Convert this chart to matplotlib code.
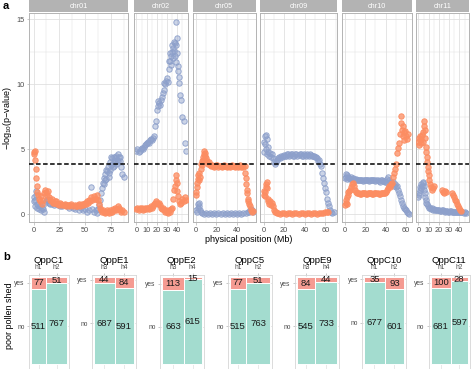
import matplotlib.pyplot as plt

plt.rcParams['font.family'] = ['Liberation Sans', 'DejaVu Sans']
plt.rcParams['mathtext.default'] = 'regular'

# ---- panel a: -log10(p) along chromosomes (position Mb, value) ----
chrom_names = ['chr01', 'chr02', 'chr05', 'chr09', 'chr10', 'chr11']
chrom_len = [87, 48, 55, 68, 63, 47]
chrom_ticks = [[0, 25, 50, 75], [0, 10, 20, 30, 40], [0, 20, 40],
               [0, 20, 40, 60], [0, 20, 40, 60], [0, 10, 20, 30, 40]]
threshold = 3.85

chr01_blue = [(0, 1.0), (0.5, 1.3), (1, 0.6), (1.5, 1.1), (2, 1.8), (2.5, 1.5), (3, 0.8), (3.5, 0.5),
              (4, 0.7), (5, 0.4), (6, 0.6), (7, 0.3), (8, 0.5), (9, 0.4), (10, 0.2), (11, 0.9),
              (12, 1.0), (13, 1.2), (14, 1.1), (15, 0.9), (16, 0.8), (18, 0.8), (20, 0.7), (22, 0.8),
              (24, 0.7), (26, 0.6), (28, 0.6), (30, 0.7), (32, 0.6), (34, 0.5), (36, 0.6), (38, 0.5),
              (40, 0.4), (42, 0.6), (44, 0.3), (46, 0.5), (48, 0.3), (50, 0.4), (52, 0.2), (54, 0.3),
              (56, 2.1), (57, 0.4), (58, 0.2), (60, 0.3), (61, 0.1), (62, 0.4), (63, 0.7), (64, 1.1),
              (65, 1.6), (66, 2.0), (67, 2.4), (68, 2.8), (68, 2.3), (69, 3.1), (69, 2.6), (70, 2.7),
              (70, 3.4), (71, 3.3), (72, 3.6), (73, 3.2), (73, 2.9), (74, 4.0), (74, 3.4), (75, 3.8),
              (75, 4.4), (76, 4.3), (76, 3.9), (77, 3.6), (78, 4.4), (78, 3.7), (79, 4.0), (79, 4.3),
              (80, 4.5), (80, 3.9), (81, 4.2), (82, 4.6), (82, 4.1), (83, 4.4), (84, 4.1), (84, 4.4),
              (85, 3.6), (86, 3.1), (87, 2.9)]
chr01_orange = [(0, 4.8), (0.5, 4.6), (1, 4.9), (1.5, 4.2), (2, 3.5), (2.5, 2.8), (3, 2.2), (3.5, 1.7),
                (4, 1.5), (5, 1.2), (6, 1.0), (7, 1.4), (8, 0.8), (9, 1.1), (10, 1.6), (11, 1.9),
                (12, 1.7), (13, 1.5), (14, 1.8), (15, 1.3), (16, 1.1), (17, 1.0), (18, 1.2), (19, 0.9),
                (20, 0.9), (21, 1.0), (22, 1.0), (23, 0.8), (24, 0.8), (25, 0.7), (26, 0.9), (27, 0.8),
                (28, 0.7), (29, 0.7), (30, 0.8), (31, 0.6), (32, 0.7), (33, 0.7), (34, 0.6), (35, 0.7),
                (36, 0.8), (38, 0.6), (40, 0.7), (41, 0.6), (42, 0.6), (43, 0.7), (44, 0.8), (45, 0.6),
                (46, 0.7), (47, 0.8), (48, 0.7), (49, 0.8), (50, 0.9), (51, 0.8), (52, 1.0), (53, 0.9),
                (54, 1.1), (55, 1.0), (56, 1.3), (57, 1.1), (58, 1.4), (59, 1.2), (60, 1.2), (61, 1.5),
                (62, 1.1), (63, 0.8), (64, 0.5), (65, 0.3), (66, 0.2), (67, 0.3), (68, 0.2), (69, 0.1),
                (70, 0.2), (71, 0.3), (72, 0.2), (73, 0.1), (74, 0.3), (75, 0.2), (76, 0.2), (77, 0.4),
                (78, 0.3), (79, 0.5), (80, 0.3), (81, 0.4), (82, 0.6), (83, 0.5), (84, 0.3), (85, 0.2),
                (86, 0.3), (87, 0.2)]

chr02_blue = [(0, 4.9), (1, 5.0), (2, 4.8), (3, 4.9), (4, 5.0), (5, 5.1), (6, 5.0), (7, 5.2), (8, 5.3),
              (9, 5.4), (10, 5.5), (11, 5.6), (12, 5.5), (13, 5.7), (14, 5.8), (15, 5.7), (16, 5.9),
              (17, 6.0), (18, 6.8), (19, 7.2), (20, 8.0), (21, 8.3), (21, 8.7), (22, 8.6), (23, 8.4),
              (24, 8.8), (25, 9.0), (26, 9.3), (27, 9.6), (27, 10.1), (28, 10.0), (29, 10.3), (30, 10.5),
              (31, 10.2), (32, 11.2), (32, 11.8), (33, 11.8), (33, 12.4), (34, 12.2), (34, 11.5),
              (35, 12.5), (35, 13.0), (36, 12.8), (36, 12.0), (37, 12.6), (37, 13.3), (38, 13.2),
              (38, 12.2), (39, 13.0), (39, 14.8), (39, 11.7), (40, 12.4), (40, 13.6), (41, 11.0),
              (41, 11.4), (42, 10.6), (42, 10.1), (43, 9.2), (44, 8.8), (45, 7.5), (46, 7.2),
              (47, 5.5), (48, 4.9)]
chr02_orange = [(0, 0.4), (1, 0.5), (2, 0.3), (3, 0.45), (4, 0.4), (5, 0.5), (6, 0.35), (7, 0.4),
                (8, 0.5), (9, 0.4), (10, 0.45), (11, 0.5), (12, 0.4), (13, 0.5), (14, 0.6), (15, 0.5),
                (16, 0.6), (17, 0.8), (18, 0.9), (19, 1.0), (20, 0.9), (21, 0.8), (22, 0.9), (23, 0.7),
                (24, 0.5), (25, 0.4), (26, 0.45), (27, 0.3), (28, 0.2), (29, 0.3), (30, 0.2), (31, 0.1),
                (32, 0.3), (33, 0.2), (34, 0.4), (35, 0.5), (36, 1.2), (37, 1.9), (38, 2.2), (38.5, 2.6),
                (39, 3.0), (39.5, 2.4), (40, 1.8), (41, 1.4), (42, 1.0), (43, 0.8), (44, 0.9), (45, 1.2),
                (46, 1.0), (47, 1.3), (48, 1.1)]

chr05_blue = [(0, 0.3), (1, 0.2), (2, 0.5), (2.5, 0.8), (3, 0.9), (3.5, 0.6), (4, 0.3), (5, 0.15),
              (6, 0.1), (8, 0.05), (10, 0.1), (12, 0.05), (14, 0.1), (16, 0.05), (18, 0.1), (20, 0.05),
              (22, 0.1), (24, 0.05), (26, 0.1), (28, 0.05), (30, 0.1), (32, 0.05), (34, 0.1), (36, 0.05),
              (38, 0.1), (40, 0.05), (42, 0.1), (44, 0.05), (46, 0.1), (48, 0.1), (50, 0.15), (51, 0.2),
              (52, 0.3), (53, 0.4), (54, 0.3), (55, 0.2)]
chr05_orange = [(0, 1.5), (0.5, 1.7), (1, 2.1), (1.5, 2.4), (2, 2.7), (2.5, 3.0), (3, 2.6), (3.5, 3.2),
                (4, 2.9), (5, 3.5), (5.5, 3.9), (6, 4.1), (6.5, 3.8), (7, 4.4), (7.5, 4.2), (8, 4.6),
                (8.5, 4.9), (9, 4.7), (9.5, 4.5), (10, 4.3), (11, 4.1), (12, 3.9), (13, 4.0), (14, 3.8),
                (15, 3.7), (16, 3.8), (17, 3.75), (18, 3.65), (19, 3.7), (20, 3.8), (21, 3.8), (22, 3.65),
                (23, 3.7), (24, 3.75), (25, 3.65), (26, 3.7), (27, 3.8), (28, 3.7), (29, 3.7), (30, 3.65),
                (31, 3.75), (32, 3.7), (33, 3.65), (34, 3.75), (35, 3.8), (36, 3.7), (37, 3.7), (38, 3.65),
                (39, 3.75), (40, 3.7), (41, 3.6), (42, 3.7), (43, 3.8), (44, 3.65), (45, 3.7), (46, 3.6),
                (47, 3.7), (47.5, 3.2), (48, 2.8), (48.5, 2.3), (49, 1.9), (49.5, 1.6), (50, 1.2),
                (50.5, 1.0), (51, 0.8), (52, 0.6), (53, 0.3), (54, 0.2), (55, 0.25)]

chr09_blue = [(0, 4.8), (0.5, 5.6), (1, 6.0), (1.5, 5.4), (2, 6.1), (2.5, 5.0), (3, 5.8), (3.5, 4.6),
              (4, 5.2), (4.5, 4.8), (5, 4.5), (6, 4.7), (7, 4.4), (8, 4.6), (9, 4.3), (10, 4.0),
              (11, 3.85), (12, 4.0), (13, 4.2), (14, 4.3), (15, 4.4), (16, 4.3), (17, 4.5), (18, 4.4),
              (19, 4.5), (20, 4.55), (21, 4.5), (22, 4.5), (23, 4.6), (24, 4.6), (25, 4.5), (26, 4.55),
              (27, 4.6), (28, 4.6), (29, 4.5), (30, 4.5), (31, 4.6), (32, 4.6), (33, 4.5), (34, 4.55),
              (35, 4.6), (36, 4.6), (37, 4.5), (38, 4.5), (39, 4.6), (40, 4.55), (41, 4.5), (42, 4.6),
              (43, 4.55), (44, 4.5), (45, 4.6), (46, 4.55), (47, 4.5), (48, 4.5), (49, 4.45), (50, 4.4),
              (51, 4.4), (52, 4.3), (53, 4.1), (54, 4.2), (55, 3.9), (56, 3.7), (57, 3.2), (58, 2.8),
              (59, 2.4), (60, 2.0), (61, 1.7), (62, 1.2), (63, 0.9), (64, 0.6), (65, 0.3), (66, 0.2),
              (67, 0.1), (68, 0.15)]
chr09_orange = [(0, 1.5), (0.5, 1.8), (1, 1.4), (1.5, 1.7), (2, 2.1), (2.5, 2.3), (3, 2.5), (3.5, 2.0),
                (4, 1.2), (4.5, 1.0), (5, 0.8), (6, 1.0), (7, 0.7), (8, 0.9), (9, 0.6), (10, 0.3),
                (11, 0.2), (12, 0.15), (13, 0.1), (14, 0.1), (16, 0.05), (18, 0.1), (20, 0.1), (22, 0.05),
                (24, 0.1), (26, 0.1), (28, 0.05), (30, 0.1), (32, 0.1), (34, 0.05), (36, 0.1), (38, 0.1),
                (40, 0.05), (42, 0.1), (44, 0.1), (46, 0.05), (48, 0.1), (50, 0.1), (52, 0.05), (54, 0.1),
                (56, 0.1), (58, 0.1), (60, 0.15), (62, 0.2), (63, 0.15)]

chr10_blue = [(0, 2.8), (0.5, 3.1), (1, 2.9), (1.5, 3.0), (2, 2.7), (3, 2.9), (4, 2.8), (5, 2.75),
              (6, 2.9), (7, 2.7), (8, 2.8), (9, 2.7), (10, 2.6), (11, 2.7), (12, 2.65), (13, 2.6),
              (14, 2.6), (15, 2.65), (16, 2.6), (17, 2.6), (18, 2.55), (19, 2.6), (20, 2.6), (21, 2.65),
              (22, 2.6), (23, 2.6), (24, 2.55), (25, 2.6), (26, 2.6), (27, 2.65), (28, 2.6), (29, 2.6),
              (30, 2.55), (31, 2.6), (32, 2.6), (33, 2.55), (34, 2.5), (35, 2.6), (36, 2.6), (37, 2.55),
              (38, 2.55), (39, 2.5), (40, 2.5), (41, 2.7), (42, 2.9), (43, 2.6), (44, 2.4), (45, 2.5),
              (46, 2.3), (47, 2.5), (48, 2.2), (49, 2.3), (50, 2.1), (51, 2.2), (52, 1.9), (53, 1.6),
              (54, 1.4), (55, 1.1), (56, 0.9), (57, 0.6), (58, 0.5), (59, 0.4), (60, 0.3), (61, 0.2),
              (62, 0.1), (63, 0.05)]
chr10_orange = [(0, 0.7), (0.5, 0.9), (1, 1.1), (1.5, 0.8), (2, 1.3), (2.5, 1.5), (3, 1.7), (4, 1.8),
                (5, 1.9), (6, 2.1), (7, 2.3), (8, 2.4), (9, 2.2), (10, 1.9), (11, 1.7), (12, 1.6),
                (13, 1.6), (14, 1.6), (15, 1.55), (16, 1.55), (17, 1.6), (18, 1.6), (19, 1.6), (20, 1.6),
                (21, 1.55), (22, 1.55), (23, 1.6), (24, 1.6), (25, 1.6), (26, 1.6), (27, 1.55), (28, 1.55),
                (29, 1.6), (30, 1.6), (31, 1.6), (32, 1.6), (33, 1.55), (34, 1.55), (35, 1.6), (36, 1.6),
                (37, 1.6), (38, 1.6), (39, 1.65), (40, 1.7), (41, 1.9), (42, 2.0), (43, 2.2), (44, 2.1),
                (45, 2.3), (46, 2.4), (47, 2.9), (48, 3.2), (49, 3.5), (50, 3.9), (51, 4.7), (52, 5.1),
                (53, 5.5), (54, 6.2), (55, 7.6), (55.5, 7.0), (56, 6.5), (57, 6.8), (57.5, 6.0), (58, 6.3),
                (58.5, 5.7), (59, 6.4), (60, 6.0), (61, 5.8), (62, 6.2)]

chr11_blue = [(0, 1.3), (0.5, 1.5), (1, 1.6), (1.5, 1.9), (2, 2.1), (2.5, 2.0), (3, 2.3), (3.5, 2.2),
              (4, 2.5), (4.5, 2.4), (5, 2.2), (5.5, 1.9), (6, 1.6), (6.5, 1.3), (7, 1.1), (7.5, 0.9),
              (8, 0.8), (9, 0.6), (10, 0.5), (11, 0.45), (12, 0.4), (13, 0.5), (14, 0.35), (15, 0.4),
              (16, 0.3), (17, 0.35), (18, 0.35), (19, 0.3), (20, 0.3), (21, 0.25), (22, 0.25), (23, 0.3),
              (24, 0.3), (25, 0.25), (26, 0.2), (27, 0.25), (28, 0.25), (29, 0.2), (30, 0.2), (31, 0.25),
              (32, 0.25), (33, 0.2), (34, 0.2), (35, 0.2), (36, 0.15), (37, 0.2), (38, 0.2), (39, 0.15),
              (40, 0.15), (41, 0.2), (42, 0.2), (43, 0.15), (44, 0.1), (45, 0.15), (46, 0.1)]
chr11_orange = [(0, 5.6), (0.5, 5.9), (1, 5.3), (1.5, 5.7), (2, 6.0), (2.5, 5.5), (3, 5.8), (3.5, 6.1),
                (4, 5.6), (4.5, 6.3), (5, 6.8), (5.5, 7.2), (6, 6.5), (6.5, 5.9), (7, 5.2), (7.5, 4.8),
                (8, 4.4), (8.5, 4.0), (9, 3.6), (9.5, 3.3), (10, 3.0), (10.5, 2.6), (11, 2.3), (12, 2.1),
                (13, 1.9), (14, 2.0), (15, 2.2), (23, 1.9), (24, 1.7), (25, 1.6), (26, 1.8), (27, 1.7),
                (33, 1.6), (34, 1.5), (35, 1.3), (36, 1.1), (37, 1.0), (38, 0.8), (39, 0.6), (40, 0.5),
                (41, 0.35), (42, 0.25)]

blue_series = [chr01_blue, chr02_blue, chr05_blue, chr09_blue, chr10_blue, chr11_blue]
orange_series = [chr01_orange, chr02_orange, chr05_orange, chr09_orange, chr10_orange, chr11_orange]

# ---- panel b: counts of poor pollen shed (yes/no) per haplotype ----
qtl_names = ['QppC1', 'QppE1', 'QppE2', 'QppC5', 'QppE9', 'QppC10', 'QppC11']
hap_labels = [('h1', 'h2'), ('h3', 'h4'), ('h3', 'h4'), ('h1', 'h2'), ('h3', 'h4'), ('h1', 'h2'), ('h1', 'h2')]
yes_counts = [(77, 51), (44, 84), (113, 15), (77, 51), (84, 44), (35, 93), (100, 28)]
no_counts = [(511, 767), (687, 591), (663, 615), (515, 763), (545, 733), (677, 601), (681, 597)]

TEAL = '#A3DCCF'
SALMON = '#F59B92'
GREY70 = '#B3B3B3'
GRID = '#E0E0E0'
TXT = '#4D4D4D'

W, H = 474, 369
fig = plt.figure(figsize=(W / 100, H / 100), dpi=100)


def px_axes(x0, y0, x1, y1):
    return fig.add_axes([x0 / W, 1 - y1 / H, (x1 - x0) / W, (y1 - y0) / H])


panel_px = [(29, 128), (134, 188), (192.7, 255.7), (260, 337), (342, 412), (416, 469)]
top_a, bot_a = 13, 222

for i, name in enumerate(chrom_names):
    x0, x1 = panel_px[i]
    L = chrom_len[i]
    ax = px_axes(x0, top_a, x1, bot_a)
    ax.set_xlim(-0.05 * L, 1.05 * L)
    ax.set_ylim(-0.6, 15.5)
    ticks = chrom_ticks[i]
    step = ticks[1] - ticks[0]
    ax.set_xticks(ticks)
    ax.set_xticks([t + step / 2 for t in ticks if t + step / 2 < 1.05 * L], minor=True)
    ax.set_yticks([0, 5, 10, 15])
    ax.set_yticks([2.5, 7.5, 12.5], minor=True)
    ax.grid(True, which='major', color=GRID, lw=0.6)
    ax.grid(True, which='minor', color=GRID, lw=0.35)
    ax.set_axisbelow(True)
    ax.tick_params(which='major', length=1.8, width=0.5, color=GREY70, labelsize=5.3,
                   labelcolor=TXT, pad=1.5)
    ax.tick_params(which='minor', length=0)
    if i > 0:
        ax.tick_params(axis='y', labelleft=False, length=0)
    for s in ax.spines.values():
        s.set_color(GREY70)
        s.set_linewidth(0.7)

    bx = [p[0] for p in blue_series[i]]
    by = [p[1] for p in blue_series[i]]
    ox = [p[0] for p in orange_series[i]]
    oy = [p[1] for p in orange_series[i]]
    ax.scatter(bx, by, s=15, facecolor=(0.553, 0.627, 0.796, 0.45),
               edgecolor=(0.553, 0.627, 0.796, 0.9), lw=0.7, zorder=2)
    ax.scatter(ox, oy, s=15, facecolor=(0.988, 0.553, 0.384, 0.75),
               edgecolor=(0.988, 0.553, 0.384, 0.95), lw=0.7, zorder=3)
    ax.axhline(threshold, color='black', ls=(0, (3, 1.6)), lw=1.1, zorder=4)

    sax = px_axes(x0, 0, x1, 12)
    sax.set_facecolor(GREY70)
    sax.set_xticks([])
    sax.set_yticks([])
    for s in sax.spines.values():
        s.set_visible(False)
    sax.text(0.5, 0.5, name, color='white', fontsize=5.2, ha='center', va='center',
             transform=sax.transAxes)

fig.text(8 / W, 1 - 118 / H, '−log$_{10}$(p−value)', rotation=90, ha='center', va='center', fontsize=6.5)
fig.text(249 / W, 1 - 239 / H, 'physical position (Mb)', ha='center', va='center', fontsize=6.5)
fig.text(3 / W, 1 - 6 / H, 'a', fontsize=8, fontweight='bold', ha='left', va='center')
fig.text(3 / W, 1 - 257 / H, 'b', fontsize=8, fontweight='bold', ha='left', va='center')
fig.text(10 / W, 1 - 316 / H, 'poor pollen shed', rotation=90, ha='center', va='center', fontsize=6.5)

# ---- panel b mosaics ----
bar_px = [(31, 67), (94, 133.5), (162, 201.5), (229.6, 269.6), (296.7, 337.3), (364.3, 404.3), (430.5, 467.5)]
bar_top, bar_bot = 277.3, 364
pad = 2

for i, qname in enumerate(qtl_names):
    x0, x1 = bar_px[i]
    w = x1 - x0
    h = bar_bot - bar_top
    ax = px_axes(x0 - pad, bar_top - pad, x1 + pad, 372)
    ax.set_xlim(-pad / w, 1 + pad / w)
    ax.set_ylim(-(372 - bar_bot) / h, 1 + pad / h)
    totals = [y + n for y, n in zip(yes_counts[i], no_counts[i])]
    grand = sum(totals)
    left = 0
    centers = []
    ytick_pos = None
    for j in range(2):
        wj = totals[j] / grand
        pyes = yes_counts[i][j] / totals[j]
        ax.bar(left, 1 - pyes, width=wj, bottom=0, align='edge', color=TEAL,
               edgecolor='white', lw=0.7, zorder=2)
        ax.bar(left, pyes, width=wj, bottom=1 - pyes, align='edge', color=SALMON,
               edgecolor='white', lw=0.7, zorder=2)
        cx = left + wj / 2
        centers.append(cx)
        ax.text(cx, 1 - pyes / 2, str(yes_counts[i][j]), ha='center', va='center',
                fontsize=6.8, color='#1A1A1A', zorder=3)
        ax.text(cx, (1 - pyes) / 2, str(no_counts[i][j]), ha='center', va='center',
                fontsize=6.8, color='#1A1A1A', zorder=3)
        if j == 0:
            ytick_pos = [1 - pyes / 2, (1 - pyes) / 2]
        left += wj
    ax.set_xticks(centers)
    ax.set_xticklabels(hap_labels[i])
    ax.xaxis.tick_top()
    ax.set_yticks(ytick_pos)
    ax.set_yticklabels(['yes', 'no'])
    ax.grid(True, color=GRID, lw=0.5)
    ax.set_axisbelow(True)
    ax.tick_params(length=1.8, width=0.5, color=GREY70, labelsize=4.8, labelcolor=TXT, pad=1.2)
    for s in ax.spines.values():
        s.set_color('#D6D6D6')
        s.set_linewidth(0.6)
    fig.text((x0 + x1) / 2 / W, 1 - 260.5 / H, qname, ha='center', va='center', fontsize=6.8)

fig.savefig('out.png', dpi=100)
